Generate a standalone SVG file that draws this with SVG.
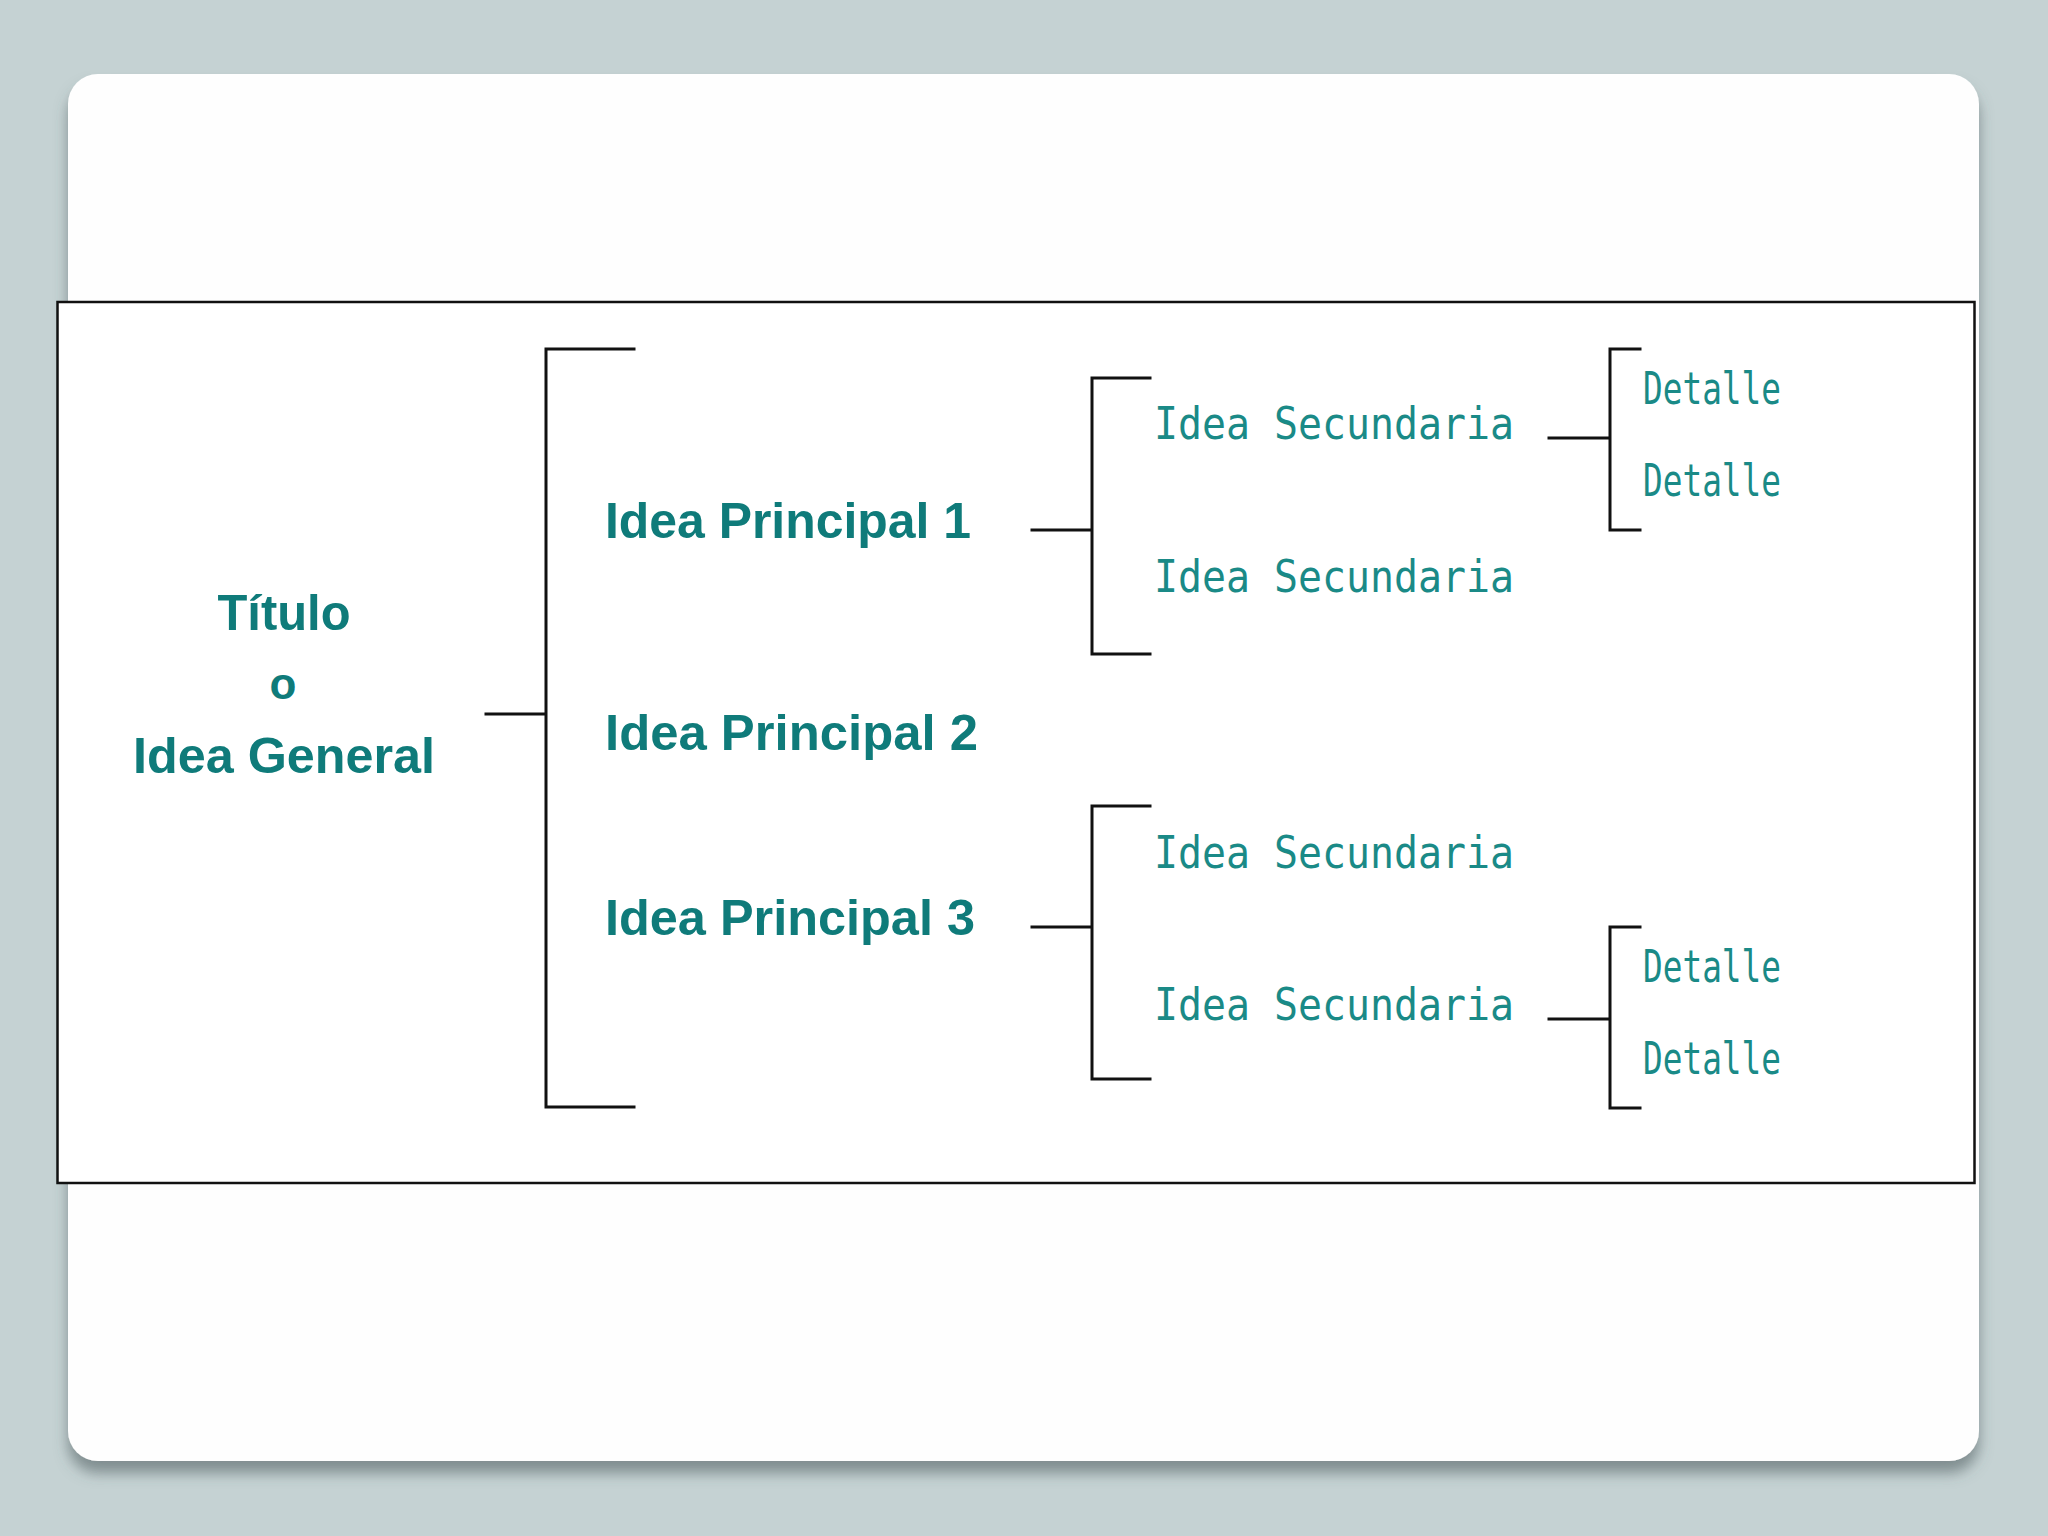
<svg xmlns="http://www.w3.org/2000/svg" width="2048" height="1536" viewBox="0 0 2048 1536">
  <defs>
    <filter id="shadow" x="-5%" y="-5%" width="110%" height="115%">
      <feDropShadow dx="0" dy="12" stdDeviation="7" flood-color="#4a5558" flood-opacity="0.55"/>
    </filter>
  </defs>
  <style>
    .bold { font-family: "Liberation Sans", Arial, sans-serif; font-weight: bold; font-size: 50px; fill: #0f7b7a; }
    .thin { font-family: "DejaVu Sans Mono", "Liberation Mono", monospace; font-weight: normal; font-size: 44px; fill: #1a8a87; }
    .line { stroke: #111; stroke-width: 3; fill: none; stroke-linecap: square; }
  </style>
  <rect x="0" y="0" width="2048" height="1536" fill="#c5d2d3"/>
  <rect x="68" y="74" width="1911" height="1387" rx="30" ry="30" fill="#fefefe" filter="url(#shadow)"/>
  <rect x="57.5" y="302" width="1917" height="881" fill="#ffffff" stroke="#111" stroke-width="2.5"/>

  <g id="connectors">
    <path class="line" d="M486 714 H546 M634 349 H546 V1107 H634"/>
    <path class="line" d="M1032 530 H1092 M1150 378 H1092 V654 H1150"/>
    <path class="line" d="M1032 927 H1092 M1150 806 H1092 V1079 H1150"/>
    <path class="line" d="M1549 438 H1610 M1640 349 H1610 V530 H1640"/>
    <path class="line" d="M1549 1019 H1610 M1640 927 H1610 V1108 H1640"/>
  </g>

  <g id="titulo">
    <text class="bold" x="284" y="630" text-anchor="middle" textLength="133" lengthAdjust="spacingAndGlyphs">Título</text>
    <text class="bold" x="283" y="699" text-anchor="middle" style="font-size:44px">o</text>
    <text class="bold" x="284" y="773" text-anchor="middle" textLength="302" lengthAdjust="spacingAndGlyphs">Idea General</text>
  </g>

  <g id="principal1">
    <text class="bold" x="605" y="538" textLength="366" lengthAdjust="spacingAndGlyphs">Idea Principal 1</text>
  </g>
  <g id="principal2">
    <text class="bold" x="605" y="750" textLength="373" lengthAdjust="spacingAndGlyphs">Idea Principal 2</text>
  </g>
  <g id="principal3">
    <text class="bold" x="605" y="935" textLength="370" lengthAdjust="spacingAndGlyphs">Idea Principal 3</text>
  </g>

  <g id="secundaria1">
    <text class="thin" x="1154" y="439" textLength="360" lengthAdjust="spacingAndGlyphs">Idea Secundaria</text>
  </g>
  <g id="secundaria2">
    <text class="thin" x="1154" y="592" textLength="360" lengthAdjust="spacingAndGlyphs">Idea Secundaria</text>
  </g>
  <g id="secundaria3">
    <text class="thin" x="1154" y="868" textLength="360" lengthAdjust="spacingAndGlyphs">Idea Secundaria</text>
  </g>
  <g id="secundaria4">
    <text class="thin" x="1154" y="1020" textLength="360" lengthAdjust="spacingAndGlyphs">Idea Secundaria</text>
  </g>

  <g id="detalle1">
    <text class="thin" x="1643" y="404" textLength="138" lengthAdjust="spacingAndGlyphs">Detalle</text>
  </g>
  <g id="detalle2">
    <text class="thin" x="1643" y="496" textLength="138" lengthAdjust="spacingAndGlyphs">Detalle</text>
  </g>
  <g id="detalle3">
    <text class="thin" x="1643" y="982" textLength="138" lengthAdjust="spacingAndGlyphs">Detalle</text>
  </g>
  <g id="detalle4">
    <text class="thin" x="1643" y="1074" textLength="138" lengthAdjust="spacingAndGlyphs">Detalle</text>
  </g>
</svg>
